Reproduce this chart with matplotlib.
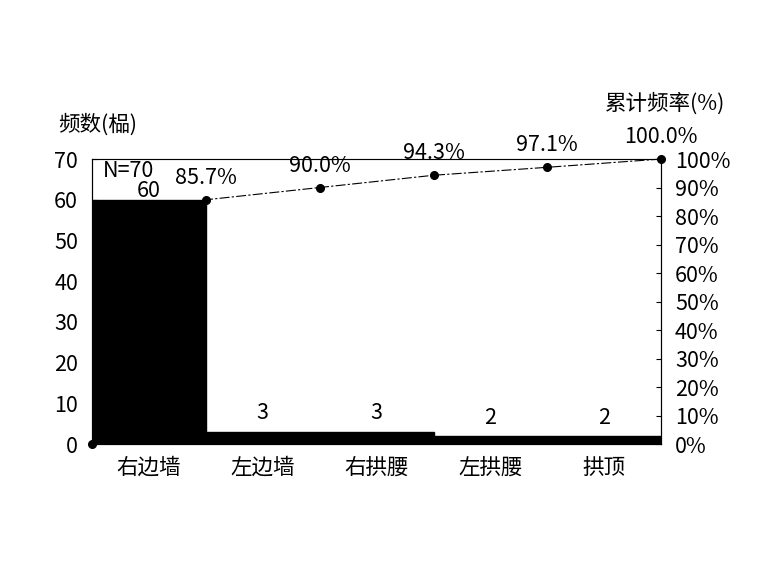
import matplotlib
matplotlib.use("Agg")
import matplotlib.pyplot as plt

plt.rcParams['font.family'] = ['Noto Sans CJK SC', 'DejaVu Sans']

categories = ["右边墙", "左边墙", "右拱腰", "左拱腰", "拱顶"]
counts = [60, 3, 3, 2, 2]
cum_pct = [85.7, 90.0, 94.3, 97.1, 100.0]
total = 70

FS = 15.5

fig = plt.figure(figsize=(7.6, 5.7), dpi=100)
ax = fig.add_axes([0.121, 0.221, 0.749, 0.5])

xs = list(range(len(categories)))
ax.bar([x + 0.5 for x in xs], counts, width=1.0, color="black", edgecolor="black", zorder=2)
ax.set_xlim(0, len(categories))
ax.set_ylim(0, 70)
ax.set_yticks(range(0, 71, 10))
ax.set_xticks([x + 0.5 for x in xs])
ax.set_xticklabels(categories, fontsize=FS)
ax.tick_params(axis="x", length=0, pad=9)
ax.tick_params(axis="y", direction="in", labelsize=FS, pad=10)
ax.spines["top"].set_color("#999999")
for s in ("left", "right", "bottom"):
    ax.spines[s].set_color("black")

# value labels
for x, c in zip(xs, counts):
    yl = c + 2.1 if c > 10 else c + 4.5
    ax.text(x + 0.5, yl, str(c), ha="center", va="center", fontsize=FS)
ax.text(0.1, 67.0, f"N={total}", ha="left", va="center", fontsize=FS)

# cumulative line on right axis
ax2 = ax.twinx()
ax2.set_ylim(0, 100)
ax2.set_yticks(range(0, 101, 10))
ax2.set_yticklabels([f"{v}%" for v in range(0, 101, 10)])
ax2.tick_params(axis="y", direction="in", labelsize=FS, pad=10)
line_x = [0] + [x + 1 for x in xs]
line_y = [0] + cum_pct
ax2.plot(line_x, line_y, color="black", lw=0.8, ls=(0, (9, 2, 2, 2)),
         marker="o", markersize=5.5, markerfacecolor="black", markeredgecolor="black",
         clip_on=False, zorder=3)
for i, p in enumerate(cum_pct):
    ax2.text(xs[i] + 1, p + 7.7, f"{p:.1f}%", ha="center", va="center", fontsize=FS)

fig.text(0.076, 0.781, "频数(榀)", ha="left", va="center", fontsize=FS)
fig.text(0.796, 0.819, "累计频率(%)", ha="left", va="center", fontsize=FS)

fig.savefig("out.png", dpi=100)
